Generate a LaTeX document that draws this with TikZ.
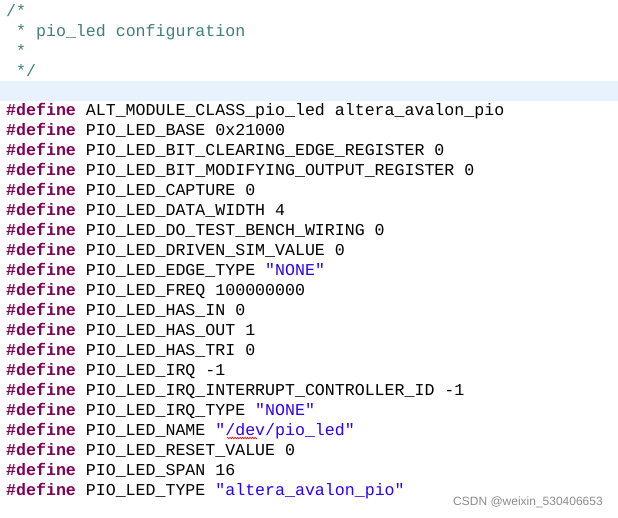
\documentclass[tikz,border=0pt]{standalone}
\usepackage{fontspec}
\newfontfamily\code{Liberation Mono}
\setmainfont{Liberation Sans}
\usetikzlibrary{decorations.pathmorphing}
\definecolor{kw}{HTML}{7F0055}
\definecolor{str}{HTML}{2A00FF}
\definecolor{cmt}{HTML}{3F7F7F}
\definecolor{hl}{HTML}{E8F2FE}
\tikzset{ln/.style={anchor=base west,inner sep=0pt,font=\code\fontsize{16.6}{18}\selectfont}}
\newcommand{\df}{\textcolor{kw}{\textbf{\#define}} }
\newcommand{\st}[1]{\textcolor{str}{#1}}
\begin{document}
\begin{tikzpicture}[x=1pt,y=-1pt]
\useasboundingbox[fill=white] (0,0) rectangle (618,517);
\fill[hl] (0,81) rectangle (618,101);
\node[ln,text=cmt] (c1) at (6,16) {/*};
\node[ln,text=cmt] (c2) at (16,36) {* pio\_led configuration};
\node[ln,text=cmt] (c3) at (16,56) {*};
\node[ln,text=cmt] (c4) at (16,76) {*/};
\foreach \t [count=\i from 0] in {
 {ALT\_MODULE\_CLASS\_pio\_led altera\_avalon\_pio},
 {PIO\_LED\_BASE 0x21000},
 {PIO\_LED\_BIT\_CLEARING\_EDGE\_REGISTER 0},
 {PIO\_LED\_BIT\_MODIFYING\_OUTPUT\_REGISTER 0},
 {PIO\_LED\_CAPTURE 0},
 {PIO\_LED\_DATA\_WIDTH 4},
 {PIO\_LED\_DO\_TEST\_BENCH\_WIRING 0},
 {PIO\_LED\_DRIVEN\_SIM\_VALUE 0},
 {PIO\_LED\_EDGE\_TYPE \st{"NONE"}},
 {PIO\_LED\_FREQ 100000000},
 {PIO\_LED\_HAS\_IN 0},
 {PIO\_LED\_HAS\_OUT 1},
 {PIO\_LED\_HAS\_TRI 0},
 {PIO\_LED\_IRQ -1},
 {PIO\_LED\_IRQ\_INTERRUPT\_CONTROLLER\_ID -1},
 {PIO\_LED\_IRQ\_TYPE \st{"NONE"}},
 {PIO\_LED\_NAME \st{"/dev/pio\_led"}},
 {PIO\_LED\_RESET\_VALUE 0},
 {PIO\_LED\_SPAN 16},
 {PIO\_LED\_TYPE \st{"altera\_avalon\_pio"}}}
{ \node[ln] (d\i) at (6,{115+20*\i}) {\df\t}; }
\draw[red,line width=0.6pt,decorate,decoration={zigzag,amplitude=0.8pt,segment length=2.5pt}] (227,438) -- (257,438);
\node[anchor=base east,inner sep=0pt,text=black!45,font=\fontsize{12}{14}\selectfont] (wm) at (603,505) {CSDN @weixin\_530406653};
\end{tikzpicture}
\end{document}
